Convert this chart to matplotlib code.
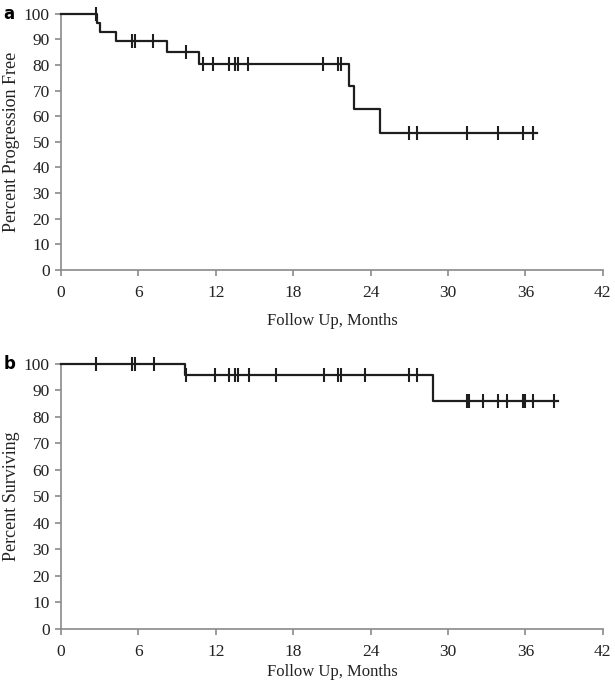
import matplotlib.pyplot as plt
import numpy as np

plt.rcParams['font.family'] = ['Liberation Serif', 'DejaVu Serif']

# Panel a: progression-free survival (step points)
pfs_times = [0, 2.8, 3.0, 4.3, 8.2, 10.7, 22.3, 22.7, 24.7, 36.9]
pfs_values = [100, 96.4, 92.9, 89.3, 85.0, 80.4, 71.6, 62.8, 53.6, 53.6]
pfs_censor = [2.7, 5.5, 5.7, 7.1, 9.7, 11.0, 11.8, 13.0, 13.5, 13.7, 14.5,
              20.3, 21.5, 21.7, 27.0, 27.6, 31.5, 33.9, 35.8, 36.6]

# Panel b: overall survival
os_times = [0, 9.6, 28.8, 38.5]
os_values = [100, 95.8, 86.1, 86.1]
os_censor = [2.7, 5.5, 5.7, 7.2, 9.7, 11.9, 13.0, 13.5, 13.7, 14.6, 16.7,
             20.4, 21.5, 21.7, 23.6, 27.0, 27.6, 31.5, 31.6, 32.7, 33.9,
             34.6, 35.8, 36.0, 36.6, 38.2]

x_ticks = [0, 6, 12, 18, 24, 30, 36, 42]
y_ticks = list(range(0, 101, 10))

LINE = '#1e1e1e'
AXIS = '#8a8a8a'

fig = plt.figure(figsize=(6.15, 6.85), dpi=100)
ax_a = fig.add_axes([0.0992, 0.606, 0.881, 0.374])
ax_b = fig.add_axes([0.0992, 0.0818, 0.881, 0.387])


def step_value(times, values, t):
    idx = np.searchsorted(times, t, side='right') - 1
    return np.array(values)[idx]


def km_panel(ax, times, values, censor, ylabel, letter, xlab_y):
    ax.step(times, values, where='post', color=LINE, lw=1.6, clip_on=False, zorder=3)
    cy = step_value(times, values, censor)
    ax.plot(censor, cy, linestyle='none', marker='|', markersize=9.5,
            markeredgewidth=1.5, color=LINE, clip_on=False, zorder=4)
    ax.set_xlim(0, 42)
    ax.set_ylim(0, 100)
    ax.set_xticks(x_ticks)
    ax.set_yticks(y_ticks)
    for s in ['top', 'right']:
        ax.spines[s].set_visible(False)
    for s in ['left', 'bottom']:
        ax.spines[s].set_color(AXIS)
        ax.spines[s].set_linewidth(1.2)
    ax.tick_params(axis='both', direction='out', length=4, width=1.2,
                   color=AXIS, labelsize=12.5, labelcolor='#222222', pad=4)
    ax.tick_params(axis='x', pad=7)
    ax.set_xlabel('Follow Up, Months', fontsize=12, color='#222222')
    ax.xaxis.set_label_coords(0.5, xlab_y)
    ax.set_ylabel(ylabel, fontsize=13, color='#222222')
    ax.yaxis.set_label_coords(-0.075, 0.5)
    ax.text(-0.106, 1.0, letter, transform=ax.transAxes, fontsize=12,
            fontweight='bold', family=['DejaVu Sans'], ha='left', va='center')


km_panel(ax_a, pfs_times, pfs_values, pfs_censor, 'Percent Progression Free', 'a', -0.168)
km_panel(ax_b, os_times, os_values, os_censor, 'Percent Surviving', 'b', -0.132)

fig.savefig('out.png', dpi=100, facecolor='white')
